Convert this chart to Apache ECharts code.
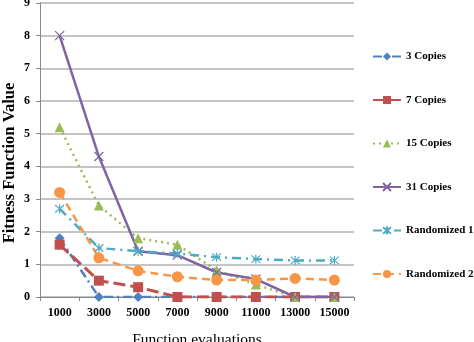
<!DOCTYPE html>
<html><head><meta charset="utf-8">
<script src="https://cdn.jsdelivr.net/npm/echarts@6/dist/echarts.min.js"></script>
<style>html,body{margin:0;padding:0;background:#fff}#c{width:474px;height:342px}</style>
</head><body><div id="c"></div>
<script>
const categories = ['1000','3000','5000','7000','9000','11000','13000','15000'];
const copies3 = [1.8, 0, 0, 0, 0, 0, 0, 0];
const copies7 = [1.6, 0.5, 0.3, 0, 0, 0, 0, 0];
const copies15 = [5.2, 2.8, 1.8, 1.6, 0.82, 0.38, 0, 0];
const copies31 = [8, 4.3, 1.4, 1.28, 0.75, 0.55, 0, 0];
const randomized1 = [2.7, 1.5, 1.4, 1.33, 1.22, 1.16, 1.12, 1.12];
const randomized2 = [3.2, 1.2, 0.8, 0.62, 0.52, 0.52, 0.57, 0.52];
const yTicks = {min: 0, max: 9, interval: 1};

const serif = '"Liberation Serif", "DejaVu Serif", serif';
const xPath = 'path://M0,0L10,10M10,0L0,10';
const starPath = 'path://M0,0L10,10M10,0L0,10M5,-1L5,11';

function mk(name, data, color, type, width, symbol, size, stroke) {
  return {
    name, type: 'line', data, symbol, symbolSize: size,
    lineStyle: {color, width, type},
    itemStyle: stroke ? {color: 'rgba(0,0,0,0)', borderColor: color, borderWidth: 1.2} : {color, borderWidth: 0},
    emphasis: {disabled: true}
  };
}

const chart = echarts.init(document.getElementById('c'), null, {renderer: 'canvas'});
chart.setOption({
  animation: false,
  backgroundColor: '#fff',
  grid: {left: 40, right: 120, top: 3, bottom: 45, containLabel: false, outerBoundsMode: 'none'},
  graphic: [{
    type: 'text', x: 10, y: 163, rotation: Math.PI / 2,
    style: {text: 'Fitness Function Value', fontFamily: serif, fontSize: 16.5, fontWeight: 'bold',
            fill: '#000', align: 'center', verticalAlign: 'middle'}
  }],
  legend: {
    orient: 'vertical', left: 367, top: 46, itemGap: 32.5, itemWidth: 28, itemHeight: 10,
    textStyle: {fontFamily: serif, fontWeight: 'bold', fontSize: 11, color: '#000'},
    data: ['3 Copies','7 Copies','15 Copies','31 Copies','Randomized 1','Randomized 2']
  },
  xAxis: {
    type: 'category', data: categories, boundaryGap: true,
    name: 'Function evaluations', nameLocation: 'middle', nameGap: 35,
    nameTextStyle: {fontFamily: serif, fontSize: 15.5, color: '#000'},
    axisLine: {lineStyle: {color: '#888', width: 1}},
    axisTick: {show: true, length: 4, lineStyle: {color: '#888'}},
    axisLabel: {fontFamily: serif, fontWeight: 'bold', fontSize: 12, color: '#000', margin: 10}
  },
  yAxis: {
    type: 'value', min: yTicks.min, max: yTicks.max, interval: yTicks.interval,
    axisLine: {show: true, lineStyle: {color: '#888'}},
    axisTick: {show: true, length: 4, lineStyle: {color: '#888'}},
    axisLabel: {fontFamily: serif, fontWeight: 'bold', fontSize: 12, color: '#000', margin: 10},
    splitLine: {lineStyle: {color: '#b0b0b0', width: 1.5}}
  },
  series: [
    mk('3 Copies', copies3, '#4F81BD', [9, 4, 2, 4], 2.5, 'diamond', 10),
    mk('7 Copies', copies7, '#C0504D', [12, 5], 3, 'rect', 10),
    mk('15 Copies', copies15, '#9BBB59', [2, 4], 2.5, 'triangle', 10),
    mk('31 Copies', copies31, '#8064A2', 'solid', 2.5, xPath, 9, true),
    mk('Randomized 1', randomized1, '#4BACC6', [9, 5, 2, 5], 2.5, starPath, 9, true),
    mk('Randomized 2', randomized2, '#F79646', [8, 5], 2.5, 'circle', 11)
  ]
});
</script></body></html>
